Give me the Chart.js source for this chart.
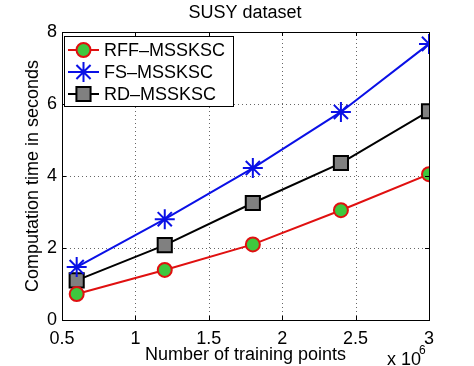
<!DOCTYPE html>
<html><head><meta charset="utf-8">
<script src="https://cdn.jsdelivr.net/npm/chart.js@4"></script>
<style>html,body{margin:0;padding:0;background:#fff}#wrap{width:474px;height:366px}</style>
</head><body><div id="wrap"><canvas id="c" width="474" height="366"></canvas></div>
<script>
const xValues = [0.6, 1.2, 1.8, 2.4, 3.0];
const rffValues = [0.72, 1.39, 2.1, 3.05, 4.05];
const fsValues = [1.47, 2.8, 4.22, 5.78, 7.67];
const rdValues = [1.1, 2.08, 3.25, 4.36, 5.8];
const seriesNames = ['RFF\u2013MSSKSC', 'FS\u2013MSSKSC', 'RD\u2013MSSKSC'];
const titleText = 'SUSY dataset';
const xTitle = 'Number of training points';
const yTitle = 'Computation time in seconds';

const FONT = '"Liberation Sans", Arial, sans-serif';
const pts = v => xValues.map((x, i) => ({x, y: v[i]}));

const styles = [
  {borderColor:'#e01010', backgroundColor:'#3ec83e', pointStyle:'circle', pointRadius:7, pointBorderWidth:2},
  {borderColor:'#0a10e6', backgroundColor:'#0a10e6', pointStyle:'star', pointRadius:10, pointBorderWidth:2},
  {borderColor:'#000000', backgroundColor:'#808080', pointStyle:'rect', pointRadius:10, pointBorderWidth:2}
];
const dataSets = [rffValues, fsValues, rdValues];

const gridPlugin = {
  id:'dotgrid',
  beforeDatasetsDraw(chart){
    const ctx = chart.ctx, a = chart.chartArea;
    const xs = chart.scales.x, ys = chart.scales.y;
    ctx.save();
    ctx.strokeStyle = '#666'; ctx.lineWidth = 1;
    ctx.setLineDash([1,3]);
    ctx.beginPath();
    xs.ticks.forEach(t => {
      const px = Math.round(xs.getPixelForValue(t.value)) + 0.5;
      ctx.moveTo(px, a.bottom); ctx.lineTo(px, a.top);
    });
    ys.ticks.forEach(t => {
      const py = Math.round(ys.getPixelForValue(t.value)) + 0.5;
      ctx.moveTo(a.left, py); ctx.lineTo(a.right, py);
    });
    ctx.stroke();
    ctx.restore();
  }
};

const decor = {
  id:'decor',
  afterDraw(chart){
    const ctx = chart.ctx, a = chart.chartArea;
    const xs = chart.scales.x, ys = chart.scales.y;
    ctx.save();
    ctx.strokeStyle = '#000'; ctx.lineWidth = 1;
    ctx.beginPath();
    xs.ticks.forEach(t => {
      const px = Math.round(xs.getPixelForValue(t.value)) + 0.5;
      ctx.moveTo(px, a.bottom); ctx.lineTo(px, a.bottom - 4);
      ctx.moveTo(px, a.top); ctx.lineTo(px, a.top + 4);
    });
    ys.ticks.forEach(t => {
      const py = Math.round(ys.getPixelForValue(t.value)) + 0.5;
      ctx.moveTo(a.left, py); ctx.lineTo(a.left + 4, py);
      ctx.moveTo(a.right, py); ctx.lineTo(a.right - 4, py);
    });
    ctx.stroke();
    ctx.strokeRect(Math.round(a.left)+0.5, Math.round(a.top)+0.5, Math.round(a.right-a.left), Math.round(a.bottom-a.top));
    ctx.fillStyle = '#000';
    ctx.font = '18px ' + FONT;
    ctx.textAlign = 'center'; ctx.textBaseline = 'middle';
    ctx.fillText(titleText, 245, 13);
    ctx.textAlign = 'left';
    ctx.font = '18px ' + FONT;
    ctx.fillText('x 10', 387, 360);
    ctx.font = '12px ' + FONT;
    ctx.fillText('6', 419, 351);
    const lx = 64, ly = 36, lw = 169, lh = 70;
    ctx.fillStyle = '#fff';
    ctx.fillRect(lx, ly, lw, lh);
    ctx.strokeStyle = '#000'; ctx.lineWidth = 1;
    ctx.strokeRect(lx+0.5, ly+0.5, lw, lh);
    const rows = [50, 72, 94];
    ctx.font = '18px ' + FONT;
    ctx.textBaseline = 'middle';
    rows.forEach((ry, i) => {
      const s = styles[i];
      ctx.strokeStyle = s.borderColor; ctx.lineWidth = 2;
      ctx.beginPath(); ctx.moveTo(68, ry); ctx.lineTo(99, ry); ctx.stroke();
      ctx.fillStyle = s.backgroundColor;
      ctx.lineWidth = s.pointBorderWidth;
      Chart.helpers.drawPoint(ctx, {pointStyle:s.pointStyle, radius:s.pointRadius, rotation:0, borderWidth:s.pointBorderWidth}, 83.5, ry);
      ctx.fillStyle = '#000';
      ctx.textAlign = 'left';
      ctx.fillText(seriesNames[i], 104, ry + 1);
    });
    ctx.restore();
  }
};

new Chart(document.getElementById('c'), {
  type:'scatter',
  data:{datasets: dataSets.map((v, i) => Object.assign({
    label: seriesNames[i], data: pts(v), showLine:true, borderWidth:2, pointHoverRadius:styles[i].pointRadius
  }, styles[i]))},
  options:{
    responsive:false, animation:false, devicePixelRatio:1,
    layout:{padding:{top:32, right:45, bottom:0, left:0}},
    plugins:{legend:{display:false}, tooltip:{enabled:false}, title:{display:false}},
    scales:{
      x:{type:'linear', min:0.5, max:3,
        ticks:{stepSize:0.5, color:'#000', font:{family:FONT, size:18}, padding:8, maxRotation:0, autoSkip:false,
          callback: v => String(+Number(v).toFixed(1))},
        grid:{display:false, drawTicks:false},
        border:{display:false},
        title:{display:true, text:xTitle, color:'#000', font:{family:FONT, size:18}, padding:{top:0,bottom:0}},
        afterFit(s){ s.height = 46; }
      },
      y:{type:'linear', min:0, max:8,
        ticks:{stepSize:2, color:'#000', font:{family:FONT, size:18}, padding:5},
        grid:{display:false, drawTicks:false},
        border:{display:false},
        title:{display:true, text:yTitle, color:'#000', font:{family:FONT, size:18}, padding:{top:22,bottom:0}},
        afterFit(s){ s.width = 62; }
      }
    }
  },
  plugins:[gridPlugin, decor]
});
</script></body></html>
